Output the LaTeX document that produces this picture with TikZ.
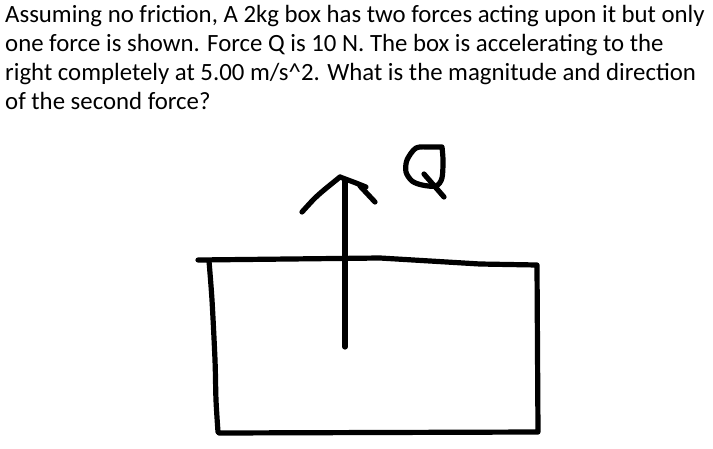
\documentclass[tikz,border=0pt]{standalone}
\usepackage{fontspec}
\setmainfont{Carlito}
\begin{document}
\begin{tikzpicture}[x=1pt,y=-1pt,
  ink/.style={line width=5.2pt,line cap=round,line join=round,black},
  txt/.style={anchor=base west,inner sep=0pt,font=\fontsize{24.8}{29}\selectfont}]
\useasboundingbox[fill=white] (0,0) rectangle (713,448);
% question text
\node[txt] (l1) at (5,22) {Assuming no friction, A 2kg box has two forces acting upon it but only};
\node[txt] (l2) at (5,51) {one force is shown. Force Q is 10 N. The box is accelerating to the};
\node[txt] (l3) at (5,80) {right completely at 5.00 m/s\^{}2. What is the magnitude and direction};
\node[txt] (l4) at (5,109) {of the second force?};
% box
\draw[ink] (198,260) -- (380,258) -- (480,264) -- (537,265) -- (538,432) -- (219,433);
\draw[ink] plot[smooth] coordinates {(209,261) (212,300) (215,360) (216,400) (218,432)};
% arrow Q
\draw[ink] (345,180) -- (345,347);
\draw[ink] plot[smooth] coordinates {(302,212) (314,199) (324,190) (340,177)};
\draw[ink] (340,177) -- (356,183) -- (366,187);
\draw[ink] (360,186) -- (375,202);
% handwritten Q
\draw[ink] plot[smooth] coordinates {(442,147) (430,147) (416,148) (407,160) (406,172) (412,181) (422,185) (436,186) (442,178) (443,160) (442,147)};
\draw[ink] (424,174) -- (444,197);
\end{tikzpicture}
\end{document}
